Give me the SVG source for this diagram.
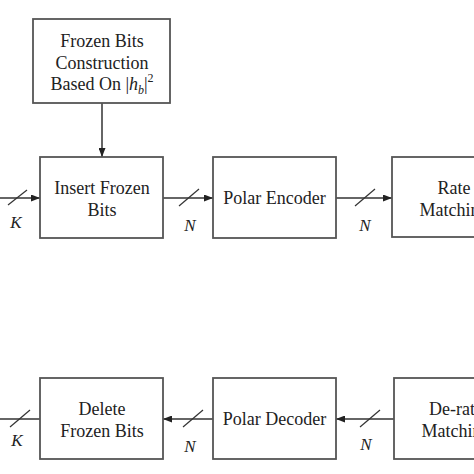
<svg xmlns="http://www.w3.org/2000/svg" width="474" height="474" viewBox="0 0 474 474">
<style>
.box{fill:#fff;stroke:#555;stroke-width:1.8}
.t{font-family:"Liberation Serif","Times New Roman",serif;font-size:18px;fill:#222;text-anchor:middle}
.lab{font-family:"Liberation Serif","Times New Roman",serif;font-size:17px;font-style:italic;fill:#222;text-anchor:middle}
.ln{stroke:#333;stroke-width:1.5;fill:none}
.sl{stroke:#333;stroke-width:1.2;fill:none}
</style>
<defs>
<marker id="ah" markerWidth="9" markerHeight="7" refX="9" refY="3.5" orient="auto" markerUnits="userSpaceOnUse">
<path d="M0,0 L9,3.5 L0,7 z" fill="#222"/>
</marker>
</defs>
<rect width="474" height="474" fill="#fff"/>
<g id="connectors">
<line class="ln" x1="102" y1="103" x2="102" y2="157" marker-end="url(#ah)"/>
<line class="ln" x1="0" y1="198" x2="40" y2="198" marker-end="url(#ah)"/>
<line class="sl" x1="8" y1="205" x2="27" y2="190"/>
<line class="ln" x1="163" y1="198" x2="213" y2="198" marker-end="url(#ah)"/>
<line class="sl" x1="179" y1="206" x2="199" y2="189"/>
<line class="ln" x1="336" y1="198" x2="392" y2="198" marker-end="url(#ah)"/>
<line class="sl" x1="355" y1="206" x2="375" y2="189"/>
<line class="ln" x1="40" y1="419" x2="0" y2="419"/>
<line class="sl" x1="10" y1="427" x2="30" y2="410"/>
<line class="ln" x1="213" y1="419" x2="163" y2="419" marker-end="url(#ah)"/>
<line class="sl" x1="183" y1="427" x2="203" y2="410"/>
<line class="ln" x1="394" y1="419" x2="336" y2="419" marker-end="url(#ah)"/>
<line class="sl" x1="360" y1="427" x2="380" y2="410"/>
<text class="lab" x="16" y="228">K</text>
<text class="lab" x="190" y="231">N</text>
<text class="lab" x="365" y="231">N</text>
<text class="lab" x="17" y="446">K</text>
<text class="lab" x="190" y="452">N</text>
<text class="lab" x="366" y="450">N</text>
</g>
<g id="frozen-construction">
<rect class="box" x="33" y="19" width="137" height="84"/>
<text class="t" x="102" y="47">Frozen Bits</text>
<text class="t" x="102" y="69">Construction</text>
<text class="t" x="102" y="90">Based On |<tspan font-style="italic">h</tspan><tspan font-style="italic" font-size="12" dy="4">b</tspan><tspan dy="-4">|</tspan><tspan font-size="12" dy="-8">2</tspan></text>
</g>
<g id="insert-frozen">
<rect class="box" x="40" y="157" width="123" height="81"/>
<text class="t" x="102" y="194">Insert Frozen</text>
<text class="t" x="102" y="216">Bits</text>
</g>
<g id="polar-encoder">
<rect class="box" x="213" y="157" width="123" height="81"/>
<text class="t" x="274.5" y="204">Polar Encoder</text>
</g>
<g id="rate-matching">
<rect class="box" x="392" y="157" width="124" height="80"/>
<text class="t" x="454" y="194">Rate</text>
<text class="t" x="454" y="216">Matching</text>
</g>
<g id="delete-frozen">
<rect class="box" x="40" y="378" width="123" height="81"/>
<text class="t" x="102" y="415">Delete</text>
<text class="t" x="102" y="437">Frozen Bits</text>
</g>
<g id="polar-decoder">
<rect class="box" x="213" y="378" width="123" height="81"/>
<text class="t" x="274.5" y="425">Polar Decoder</text>
</g>
<g id="de-rate-matching">
<rect class="box" x="394" y="378" width="124" height="81"/>
<text class="t" x="456" y="415">De-rate</text>
<text class="t" x="456" y="437">Matching</text>
</g>
</svg>
